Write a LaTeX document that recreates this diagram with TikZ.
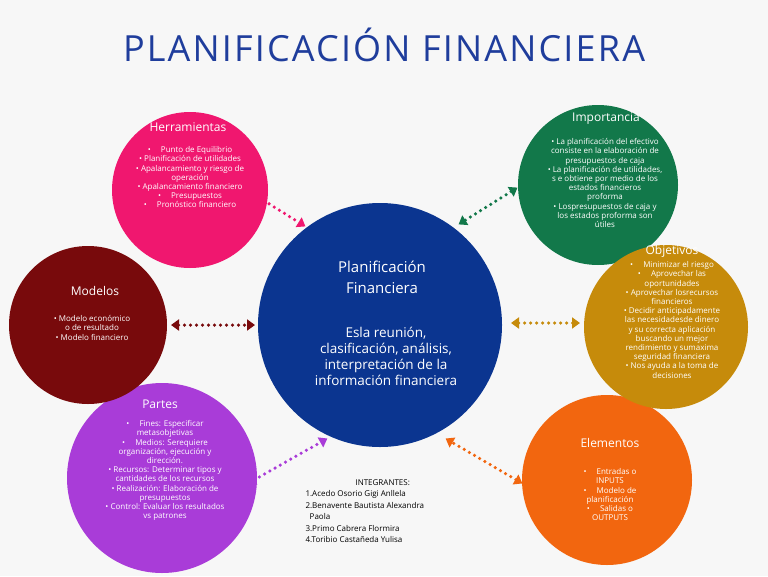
\documentclass[tikz,border=0pt]{standalone}
\usepackage{fontspec}
\setmainfont{Open Sans}
\usetikzlibrary{arrows.meta}
\definecolor{bg}{HTML}{F7F7F7}
\definecolor{cpink}{HTML}{F0176F}
\definecolor{cred}{HTML}{780A0C}
\definecolor{cpurp}{HTML}{A93CD8}
\definecolor{cnavy}{HTML}{0B3590}
\definecolor{cgreen}{HTML}{12784A}
\definecolor{cgold}{HTML}{C68B0B}
\definecolor{corange}{HTML}{F2660F}
\definecolor{ctitle}{HTML}{1F3D9C}
\begin{document}
\begin{tikzpicture}[x=1pt,y=-1pt,
  circ/.style={circle,inner sep=0pt},
  head/.style={text=white,font=\fontsize{12}{13}\selectfont},
  body/.style={text=white,align=center,font=\fontsize{8}{9.2}\selectfont},
  link/.style={line width=3.5pt,dash pattern=on 0pt off 6pt,line cap=round,{Triangle[width=11pt,length=8pt]}-{Triangle[width=11pt,length=8pt]},shorten <=3pt,shorten >=3pt}]
\fill[bg] (0,0) rectangle (768,576);
\useasboundingbox (0,0) rectangle (768,576);
\node[text=ctitle,font=\fontsize{36}{38}\selectfont\addfontfeature{LetterSpace=6}] (title) at (384,45) {PLANIFICACIÓN FINANCIERA};
% circles
\node[circ,fill=cpink,minimum size=156pt] (herr) at (190,190) {};
\node[circ,fill=cpurp,minimum size=190pt] (part) at (162,478) {};
\node[circ,fill=cred,minimum size=158pt] (mod) at (88,325) {};
\node[circ,fill=cgreen,minimum size=160pt] (imp) at (598,185) {};
\node[circ,fill=corange,minimum size=170pt] (ele) at (607,480) {};
\node[circ,fill=cgold,minimum size=164pt] (obj) at (666,327) {};
\node[circ,fill=cnavy,minimum size=244pt] (cen) at (380,325) {};
% links
\draw[link,cpink] (250,192) -- (308,228);
\draw[link,cred] (168,325) -- (258,325);
\draw[link,cpurp] (245,485) -- (330,437);
\draw[link,cgreen] (520,186) -- (456,226);
\draw[link,cgold] (583,323) -- (508,323);
\draw[link,corange] (525,485) -- (443,437);
% texts
\node[head] (herrh) at (188,127) {Herramientas};
\node[body,anchor=north] (herrb) at (190,143) {• \quad Punto de Equilibrio\\• Planificación de utilidades\\• Apalancamiento y riesgo de\\operación\\• Apalancamiento financiero\\• \quad Presupuestos\\• \quad Pronóstico financiero};
\node[head] (modh) at (95,291) {Modelos};
\node[body,anchor=north] (modb) at (92,312) {• Modelo económico\\o de resultado\\• Modelo financiero};
\node[head] (parth) at (160,404) {Partes};
\node[body,anchor=north] (partb) at (165,417) {• \quad Fines: Especificar\\metasobjetivas\\• \quad Medios: Serequiere\\organización, ejecución y\\dirección.\\• Recursos: Determinar tipos y\\cantidades de los recursos\\• Realización: Elaboración de\\presupuestos\\• Control: Evaluar los resultados\\vs patrones};
\node[head] (imph) at (606,119) {Importancia};
\node[body,anchor=north] (impb) at (605,135) {• La planificación del efectivo\\consiste en la elaboración de\\presupuestos de caja\\• La planificación de utilidades,\\s e obtiene por medio de los\\estados financieros\\proforma\\• Lospresupuestos de caja y\\los estados proforma son\\útiles};
\node[head] (objh) at (672,251) {Objetivos};
\node[body,anchor=north] (objb) at (672,258) {• \quad Minimizar el riesgo\\• \quad Aprovechar las\\oportunidades\\• Aprovechar losrecursos\\financieros\\• Decidir anticipadamente\\las necesidadesde dinero\\y su correcta aplicación\\buscando un mejor\\rendimiento y sumaxima\\seguridad financiera\\• Nos ayuda a la toma de\\decisiones};
\node[head] (eleh) at (610,443) {Elementos};
\node[body,anchor=north] (eleb) at (610,465) {• \quad Entradas o\\INPUTS\\• \quad Modelo de\\planificación\\• \quad Salidas o\\OUTPUTS};
\node[text=white,align=center,font=\fontsize{15}{21}\selectfont] (cenh) at (382,277) {Planificación\\Financiera};
\node[text=white,align=center,font=\fontsize{13.5}{16}\selectfont] (cenb) at (386,356) {Esla reunión,\\clasificación, análisis,\\interpretación de la\\información financiera};
\node[align=left,anchor=north west,font=\fontsize{8}{11.5}\selectfont] (integ) at (302,476) {\hspace*{50pt}INTEGRANTES:\\1.Acedo Osorio Gigi Anllela\\2.Benavente Bautista Alexandra\\\ \ Paola\\3.Primo Cabrera Flormira\\4.Toribio Castañeda Yulisa};
\end{tikzpicture}
\end{document}
